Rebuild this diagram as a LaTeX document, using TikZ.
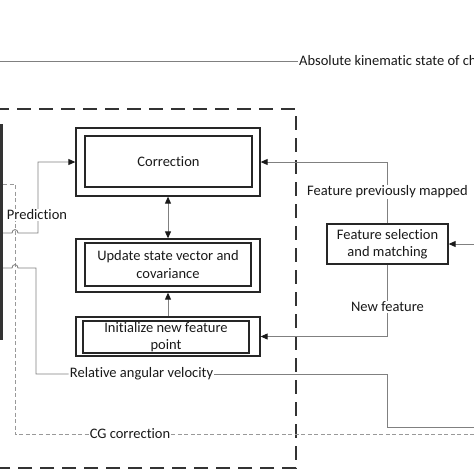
\documentclass[tikz,border=0pt]{standalone}
\usepackage{fontspec}
\setmainfont{Carlito}[Ligatures=NoCommon]
\usetikzlibrary{arrows.meta}
\begin{document}
\begin{tikzpicture}[x=1pt,y=-1pt,
  every node/.style={font=\fontsize{14.5}{17.5}\selectfont, text=black!90, inner sep=0pt},
  outerbox/.style={draw=black!85, line width=1.3pt, align=center},
  innerbox/.style={draw=black!85, line width=1.3pt, align=center},
  conn/.style={draw=black!50, line width=0.9pt},
  tip/.style={-{Triangle[length=7pt,width=6pt,color=black!90]}},
  twotip/.style={{Triangle[length=7pt,width=6pt,color=black!90]}-{Triangle[length=7pt,width=6pt,color=black!90]}},
  lbl/.style={fill=white, inner sep=1pt},
  bigdash/.style={draw=black!80, line width=1.4pt, dash pattern=on 14pt off 8pt},
  smalldash/.style={draw=black!40, line width=1pt, dash pattern=on 4pt off 2.5pt}]
\useasboundingbox (0,0) rectangle (474,474);
\clip (0,0) rectangle (474,474);

% dashed frame
\draw[bigdash] (-5,109) -- (296,109) -- (296,468) -- (-5,468);

% left bar
\coordinate (barT) at (1.5,124);
\coordinate (barB) at (1.5,340);
\draw[line width=3pt, black!80] (barT) -- (barB);
\coordinate (pStart) at (3,233);
\coordinate (rStart) at (3,268);
\coordinate (cStart) at (3,184);

% boxes
\node[outerbox, minimum width=184pt, minimum height=68pt] (corrO) at (168,162) {};
\node[innerbox, minimum width=167pt, minimum height=51pt] (corr) at (168.5,161.5) {Correction};
\node[outerbox, minimum width=184pt, minimum height=53pt] (updO) at (168,265.5) {};
\node[innerbox, minimum width=166pt, minimum height=43pt] (upd) at (168,264.5) {Update state vector and\\covariance};
\node[outerbox, minimum width=184pt, minimum height=39pt] (iniO) at (168,336.5) {};
\node[innerbox, minimum width=166pt, minimum height=32pt] (ini) at (166,337) {Initialize new feature\\point};
\node[outerbox, minimum width=121pt, minimum height=40pt] (fsm) at (387.5,244) {Feature selection\\and matching};

% top line
\coordinate (absStart) at (0,61);
\node[lbl, anchor=west] (absl) at (298,61) {Absolute kinematic state of chassis};
\draw[conn] (absStart) -- (absl.west);

% CG correction
\node[lbl] (cg) at (130,434) {CG correction};
\coordinate (cgEnd) at (474,434);
\draw[smalldash] (cStart) -- (15,184) -- (15,434) -- (cg.west);
\draw[smalldash] (cg.east) -- (cgEnd);

% prediction
\draw[conn, tip] (pStart) -- (12,233) .. controls (12,228.5) and (18,228.5) .. (18,233) -- (38,233) -- (38,162) -- (corrO.west);
\node[lbl] (pred) at (37,215) {Prediction};

% relative angular velocity
\node[lbl] (rav) at (141.5,374) {Relative angular velocity};
\coordinate (ravEnd) at (474,427);
\draw[conn] (rStart) -- (12,268) .. controls (12,263.5) and (18,263.5) .. (18,268) -- (36,268) -- (36,374) -- (rav.west);
\draw[conn] (rav.east) -- (387,374) -- (387,427) -- (ravEnd);

% internal arrows
\draw[conn, twotip] (corrO.south) -- (updO.north);
\draw[conn, tip] (iniO.north) -- (updO.south);

% feature selection
\coordinate (fin) at (474,244);
\draw[conn, tip] (fin) -- (fsm.east);
\draw[conn, tip] (fsm.north) -- (387.5,162) -- (corrO.east);
\node[lbl] (fpm) at (387.5,192) {Feature previously mapped};
\draw[conn, tip] (fsm.south) -- (387.5,336.5) -- (iniO.east);
\node[lbl] (nf) at (387.5,307) {New feature};
\end{tikzpicture}
\end{document}
